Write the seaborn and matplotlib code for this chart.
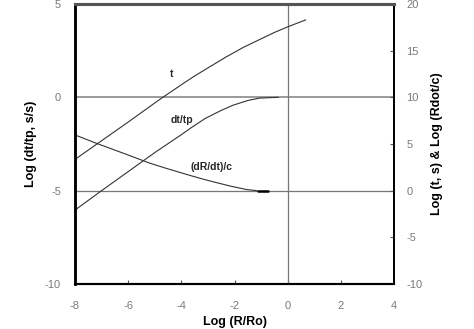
import matplotlib
matplotlib.use("Agg")
import matplotlib.pyplot as plt
import seaborn as sns
import pandas as pd

sns.set_theme(style="white")
plt.rcParams['font.family'] = ['Liberation Sans', 'DejaVu Sans']

# data (x = Log(R/Ro))
t_x = [-8, -7, -6, -4.8, -4.05, -3.55, -2.8, -2.3, -1.67, -1.05, -0.5, 0.0, 0.68]
t_y = [3.35, 5.35, 7.35, 9.8, 11.25, 12.2, 13.5, 14.35, 15.35, 16.2, 16.95, 17.55, 18.3]

dtp_x = [-8, -7, -6, -5, -4.05, -3.6, -3.1, -2.5, -2.05, -1.5, -1.05, -0.35]
dtp_y = [-6.04, -5.0, -3.98, -2.96, -2.05, -1.6, -1.13, -0.7, -0.42, -0.17, -0.04, 0.0]

rd_x = [-8, -7.2, -6, -5.2, -4.6, -4.05, -3.68, -3.2, -2.8, -2.17, -1.55, -1.15]
rd_y = [5.97, 5.08, 3.82, 2.96, 2.42, 1.95, 1.64, 1.25, 0.95, 0.5, 0.12, 0.0]
rd_end_x = [-1.12, -0.75]
rd_end_y = [0.0, 0.0]

x_ticks = [-8, -6, -4, -2, 0, 2, 4]
left_ticks = [-10, -5, 0, 5]
right_ticks = [-10, -5, 0, 5, 10, 15, 20]

fig = plt.figure(figsize=(4.74, 3.29), dpi=100)
ax = fig.add_axes([75/474, 1 - 284/329, (394-75)/474, (284-4)/329])
ax2 = ax.twinx()

ax.set_xlim(-8, 4)
ax.set_ylim(-10, 5)
ax2.set_ylim(-10, 20)

# reference lines
ax.axhline(0, color='#9a9a9a', lw=1.4, zorder=1)
ax.axhline(-5, color='#777777', lw=0.9, zorder=1)
ax.axvline(0, color='#777777', lw=0.9, zorder=1)

lc = '#333333'
sns.lineplot(x=dtp_x, y=dtp_y, ax=ax, color=lc, lw=0.8, sort=False)
sns.lineplot(x=t_x, y=t_y, ax=ax2, color=lc, lw=0.8, sort=False)
sns.lineplot(x=rd_x, y=rd_y, ax=ax2, color=lc, lw=0.8, sort=False)
sns.lineplot(x=rd_end_x, y=rd_end_y, ax=ax2, color='black', lw=1.8, sort=False)

ax.set_xticks(x_ticks)
ax.set_xticklabels([str(v) for v in x_ticks])
ax.set_yticks(left_ticks)
ax.set_yticklabels([str(v) for v in left_ticks])
ax2.set_yticks(right_ticks)
ax2.set_yticklabels([str(v) for v in right_ticks])

tick_col = '#7a7a7a'
ax.tick_params(axis='x', direction='in', length=3, width=0.8, color='#555555',
               labelsize=8, labelcolor=tick_col, pad=12, bottom=True)
ax.tick_params(axis='y', direction='in', length=3, width=0.8, color='#555555',
               labelsize=8, labelcolor=tick_col, pad=10, left=True)
ax2.tick_params(axis='y', direction='in', length=3, width=0.8, color='#555555',
                labelsize=8, labelcolor=tick_col, pad=9, right=True)

ax.set_xlabel('Log (R/Ro)', fontsize=9, fontweight='bold', color='black', labelpad=4)
ax.set_ylabel('Log (dt/tp, s/s)', fontsize=9, fontweight='bold', color='black', labelpad=6)
ax2.set_ylabel('Log (t, s) & Log (Rdot/c)', fontsize=9, fontweight='bold', color='black', labelpad=6)

for a in (ax, ax2):
    a.spines['top'].set_color('#555555')
    a.spines['top'].set_linewidth(2.2)
    a.spines['left'].set_color('black')
    a.spines['left'].set_linewidth(1.8)
    a.spines['bottom'].set_color('black')
    a.spines['bottom'].set_linewidth(1.5)
    a.spines['right'].set_color('black')
    a.spines['right'].set_linewidth(1.3)
    a.grid(False)

ax.text(-4.35, 1.25, 't', fontsize=7.5, fontweight='bold', ha='center', va='center')
ax.text(-3.98, -1.2, 'dt/tp', fontsize=7.5, fontweight='bold', ha='center', va='center')
ax.text(-2.86, -3.73, '(dR/dt)/c', fontsize=7.5, fontweight='bold', ha='center', va='center')

fig.savefig('out.png', dpi=100)
